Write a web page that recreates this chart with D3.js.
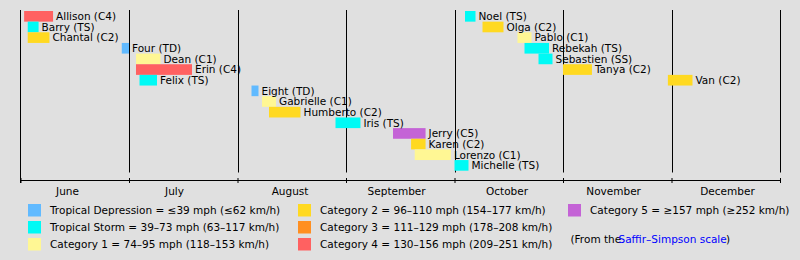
<!DOCTYPE html>
<html>
<head>
<meta charset="utf-8">
<script src="https://cdn.jsdelivr.net/npm/d3@7"></script>
<style>
  body { margin: 0; background: #e0e0e0; }
  svg { display: block; font-family: "DejaVu Sans", sans-serif; }
</style>
</head>
<body>
<div id="chart"></div>
<script>
// storm data, one entry per bar
var storms = ["Allison", "Barry", "Chantal", "Four", "Dean", "Erin", "Felix", "Eight",
  "Gabrielle", "Humberto", "Iris", "Jerry", "Karen", "Lorenzo", "Michelle",
  "Noel", "Olga", "Pablo", "Rebekah", "Sebastien", "Tanya", "Van"];
var categories = ["C4", "TS", "C2", "TD", "C1", "C4", "TS", "TD",
  "C1", "C2", "TS", "C5", "C2", "C1", "TS",
  "TS", "C2", "C1", "TS", "SS", "C2", "C2"];
var startDates = ["2001-06-02", "2001-06-03", "2001-06-03", "2001-06-29", "2001-07-03", "2001-07-03", "2001-07-04", "2001-08-05",
  "2001-08-08", "2001-08-10", "2001-08-29", "2001-09-14", "2001-09-19", "2001-09-20", "2001-10-01",
  "2001-10-04", "2001-10-09", "2001-10-19", "2001-10-21", "2001-10-25", "2001-11-01", "2001-11-30"];
var endDates = ["2001-06-10", "2001-06-06", "2001-06-09", "2001-07-01", "2001-07-10", "2001-07-19", "2001-07-09", "2001-08-07",
  "2001-08-12", "2001-08-19", "2001-09-05", "2001-09-23", "2001-09-23", "2001-09-30", "2001-10-05",
  "2001-10-07", "2001-10-15", "2001-10-23", "2001-10-28", "2001-10-29", "2001-11-09", "2001-12-07"];

// month labels and the day each label is centred on
var monthNames = ["June", "July", "August", "September", "October", "November", "December"];
var monthLabelDates = ["2001-06-14", "2001-07-14", "2001-08-16", "2001-09-15", "2001-10-16", "2001-11-15", "2001-12-17"];

// legend
var legendKeys = ["TD", "TS", "C1", "C2", "C3", "C4", "C5"];
var legendLabels = [
  "Tropical Depression = \u226439 mph (\u226462 km/h)",
  "Tropical Storm = 39\u201373 mph (63\u2013117 km/h)",
  "Category 1 = 74\u201395 mph (118\u2013153 km/h)",
  "Category 2 = 96\u2013110 mph (154\u2013177 km/h)",
  "Category 3 = 111\u2013129 mph (178\u2013208 km/h)",
  "Category 4 = 130\u2013156 mph (209\u2013251 km/h)",
  "Category 5 = \u2265157 mph (\u2265252 km/h)"];

var colors = {
  TD: "#61baff", TS: "#00faf5", SS: "#00faf5", C1: "#fff794",
  C2: "#ffd921", C3: "#ff8f21", C4: "#ff6161", C5: "#c463d6"
};

var width = 800, height = 260;
var left = 20.5, right = 780;
var rowsPerColumn = 15;

var parse = d3.timeParse("%Y-%m-%d");
var data = storms.map(function (name, i) {
  return { name: name, cat: categories[i], start: parse(startDates[i]), end: parse(endDates[i]), row: i % rowsPerColumn };
});

var svg = d3.select("#chart")
  .append("svg")
  .attr("width", width)
  .attr("height", height);

svg.append("rect").attr("width", width).attr("height", height).attr("fill", "#e0e0e0");

// months get equal widths
var monthStarts = d3.timeMonth.range(parse("2001-06-01"), parse("2002-01-02"));
var x = d3.scaleTime()
  .domain(monthStarts)
  .range(monthStarts.map(function (d, i) { return left + i * (right - left) / (monthStarts.length - 1); }));

var y = d3.scaleBand()
  .domain(d3.range(rowsPerColumn))
  .range([11, 170.7])
  .padding(0);

// grid lines at month boundaries
svg.selectAll("line.grid")
  .data(monthStarts.slice(1))
  .enter()
  .append("line")
  .attr("class", "grid")
  .attr("x1", function (d) { return Math.round(x(d)) + 0.5; })
  .attr("x2", function (d) { return Math.round(x(d)) + 0.5; })
  .attr("y1", 10)
  .attr("y2", 172.5)
  .attr("stroke", "#000");

svg.append("line")
  .attr("x1", 20.5).attr("x2", 20.5)
  .attr("y1", 10).attr("y2", 183)
  .attr("stroke", "#000");

// time axis
var xAxis = d3.axisBottom(x)
  .tickValues(monthStarts)
  .tickSize(5)
  .tickFormat("");

var axisG = svg.append("g")
  .attr("transform", "translate(0,178)")
  .call(xAxis);
axisG.select(".domain").remove();
axisG.selectAll(".tick line").attr("stroke", "#000");

svg.append("line")
  .attr("x1", x(monthStarts[0])).attr("x2", x(monthStarts[monthStarts.length - 1]))
  .attr("y1", 180.5).attr("y2", 180.5)
  .attr("stroke", "#000");

svg.selectAll("text.month")
  .data(monthNames)
  .enter()
  .append("text")
  .attr("class", "month")
  .attr("x", function (d, i) { return x(parse(monthLabelDates[i])); })
  .attr("y", 194.5)
  .attr("text-anchor", "middle")
  .attr("font-size", "10.5px")
  .attr("fill", "#000")
  .text(function (d) { return d; });

// storm bars
svg.selectAll("rect.storm")
  .data(data)
  .enter()
  .append("rect")
  .attr("class", "storm")
  .attr("x", function (d) { return x(d.start); })
  .attr("y", function (d) { return y(d.row); })
  .attr("width", function (d) { return x(d.end) - x(d.start); })
  .attr("height", y.bandwidth())
  .attr("fill", function (d) { return colors[d.cat]; });

svg.selectAll("text.storm")
  .data(data)
  .enter()
  .append("text")
  .attr("class", "storm")
  .attr("x", function (d) { return x(d.end) + 3; })
  .attr("y", function (d) { return y(d.row) + y.bandwidth() / 2 + 3.8; })
  .attr("font-size", "10.5px")
  .attr("fill", "#000")
  .text(function (d) { return d.name + " (" + d.cat + ")"; });

// legend: three columns
var legendCols = [28, 298, 568];
var legendRowY = [204, 221, 238];
var legendItems = legendKeys.map(function (k, i) {
  return { key: k, label: legendLabels[i], col: Math.floor(i / 3), row: i % 3 };
});

var leg = svg.selectAll("g.legend")
  .data(legendItems)
  .enter()
  .append("g")
  .attr("class", "legend")
  .attr("transform", function (d) { return "translate(" + legendCols[d.col] + "," + legendRowY[d.row] + ")"; });

leg.append("rect")
  .attr("width", 13)
  .attr("height", 12.5)
  .attr("fill", function (d) { return colors[d.key]; });

leg.append("text")
  .attr("x", 22)
  .attr("y", 10.3)
  .attr("font-size", "10.5px")
  .attr("fill", "#000")
  .text(function (d) { return d.label; });

// source note
svg.append("text")
  .attr("x", 570.5).attr("y", 243)
  .attr("font-size", "10.5px")
  .attr("fill", "#000")
  .text("(From the");
svg.append("text")
  .attr("x", 618.5).attr("y", 243)
  .attr("font-size", "10.5px")
  .attr("fill", "#0000ff")
  .text("Saffir\u2013Simpson scale");
svg.append("text")
  .attr("x", 726).attr("y", 243)
  .attr("font-size", "10.5px")
  .attr("fill", "#000")
  .text(")");
</script>
</body>
</html>
